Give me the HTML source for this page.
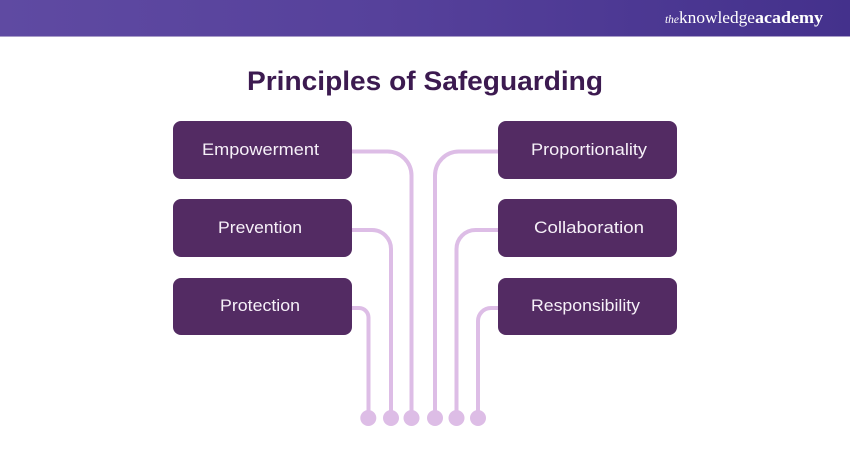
<!DOCTYPE html>
<html>
<head>
<meta charset="utf-8">
<style>
html,body{margin:0;padding:0;background:#fff;width:850px;height:450px;overflow:hidden}
svg{display:block}
.l{font-family:"Liberation Sans",sans-serif;font-size:17px;fill:#f6f0f8;text-anchor:start}
</style>
</head>
<body>
<svg width="850" height="450" viewBox="0 0 850 450" xmlns="http://www.w3.org/2000/svg">
<defs>
<linearGradient id="g" x1="0" y1="0" x2="1" y2="0">
<stop offset="0" stop-color="#5f4aa2"/>
<stop offset="0.45" stop-color="#56419b"/>
<stop offset="1" stop-color="#44318c"/>
</linearGradient>
</defs>
<rect x="0" y="0" width="850" height="36" fill="url(#g)"/>
<rect x="0" y="36" width="850" height="1" fill="#a89cc8"/>
<text x="665" y="23" font-family="Liberation Serif,serif" font-style="italic" font-size="12" fill="#fff" textLength="14" lengthAdjust="spacingAndGlyphs">the</text>
<text x="679" y="23" font-family="Liberation Serif,serif" font-size="17" fill="#fff" textLength="76" lengthAdjust="spacingAndGlyphs">knowledge</text>
<text x="755" y="23" font-family="Liberation Serif,serif" font-weight="700" font-size="17" fill="#fff" textLength="68" lengthAdjust="spacingAndGlyphs">academy</text>

<text x="247" y="90" font-family="Liberation Sans,sans-serif" font-weight="700" font-size="27" fill="#3c1a50" textLength="356" lengthAdjust="spacingAndGlyphs">Principles of Safeguarding</text>

<g fill="none" stroke="#ddbde6" stroke-width="4">
<path d="M352 151.500H387.500A24 24 0 0 1 411.500 175.500V418"/>
<path d="M352 230H372A19 19 0 0 1 391 249V418"/>
<path d="M352 308H359A9.500 9.500 0 0 1 368.500 317.500V418"/>
<path d="M498 151.500H459A24 24 0 0 0 435 175.500V418"/>
<path d="M498 230H475.500A19 19 0 0 0 456.500 249V418"/>
<path d="M498 308H491A13 13 0 0 0 478 321V418"/>
</g>
<g fill="#ddbde6">
<circle cx="368.300" cy="418" r="8"/>
<circle cx="391" cy="418" r="8"/>
<circle cx="411.500" cy="418" r="8"/>
<circle cx="435" cy="418" r="8"/>
<circle cx="456.500" cy="418" r="8"/>
<circle cx="478" cy="418" r="8"/>
</g>

<g fill="#532b63">
<rect x="173" y="121" width="179" height="58" rx="8"/>
<rect x="173" y="199" width="179" height="58" rx="8"/>
<rect x="173" y="278" width="179" height="57" rx="8"/>
<rect x="498" y="121" width="179" height="58" rx="8"/>
<rect x="498" y="199" width="179" height="58" rx="8"/>
<rect x="498" y="278" width="179" height="57" rx="8"/>
</g>

<text class="l" x="202" y="155" textLength="117" lengthAdjust="spacingAndGlyphs">Empowerment</text>
<text class="l" x="218" y="233" textLength="84" lengthAdjust="spacingAndGlyphs">Prevention</text>
<text class="l" x="220" y="311" textLength="80" lengthAdjust="spacingAndGlyphs">Protection</text>
<text class="l" x="531" y="155" textLength="116" lengthAdjust="spacingAndGlyphs">Proportionality</text>
<text class="l" x="534" y="233" textLength="110" lengthAdjust="spacingAndGlyphs">Collaboration</text>
<text class="l" x="531" y="311" textLength="109" lengthAdjust="spacingAndGlyphs">Responsibility</text>
</svg>
</body>
</html>
